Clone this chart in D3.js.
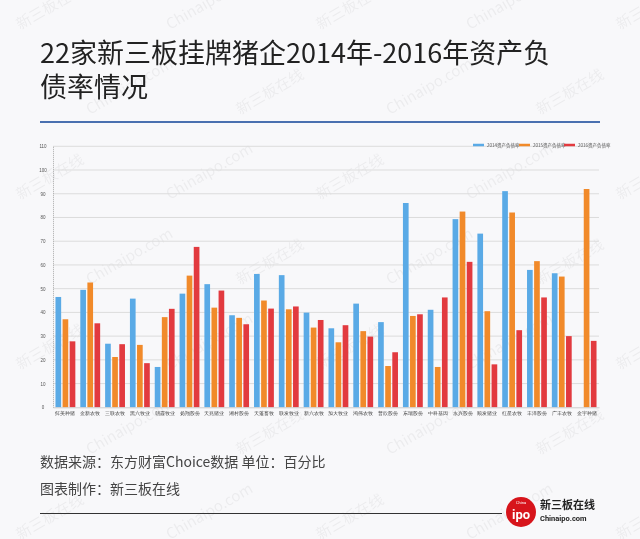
<!DOCTYPE html>
<html>
<head>
<meta charset="utf-8">
<script src="https://cdn.jsdelivr.net/npm/d3@7/dist/d3.min.js"></script>
<style>
  body { margin: 0; background: #f8f8fa; }
  svg { display: block; font-family: "Noto Sans CJK SC", "Noto Sans", sans-serif; }
</style>
</head>
<body>
<div id="chart-area"></div>
<script>
// 22家挂牌猪企
const companies = ["鲜美种猪", "金新农牧", "三联农牧", "黑六牧业", "朝霞牧业", "扬翔股份", "天兆猪业",
  "湘村股份", "天蓬畜牧", "联发牧业", "新六农牧", "加大牧业", "鸿伟农牧", "普欣股份", "东瑞股份",
  "中科基因", "永兴股份", "顺发猪业", "红星农牧", "丰泽股份", "广丰农牧", "金宇种猪"]
const seriesNames = ["2014资产负债率", "2015资产负债率", "2016资产负债率"]
const colors = ["#5aaae6", "#f18a2a", "#e23a3f"]
const v2014 = [46.5, 49.5, 26.8, 45.8, 17.0, 47.9, 51.9, 38.8, 56.2, 55.7, 39.9, 33.3, 43.7, 35.9, 86.1, 41.1, 79.3, 73.2, 91.1, 57.9, 56.5, null]
const v2015 = [37.1, 52.6, 21.2, 26.3, 38.0, 55.5, 42.0, 37.7, 45.0, 41.3, 33.6, 27.4, 32.1, 17.4, 38.5, 17.0, 82.5, 40.5, 82.1, 61.6, 55.1, 92.0]
const v2016 = [27.8, 35.4, 26.6, 18.6, 41.5, 67.6, 49.2, 35.0, 41.6, 42.5, 36.8, 34.6, 29.8, 23.2, 39.2, 46.3, 61.3, 18.1, 32.5, 46.3, 30.0, 28.0]
const yTicks = [0, 10, 20, 30, 40, 50, 60, 70, 80, 90, 100, 110]
const watermarks = ["新三板在线", "Chinaipo.com"]

const W = 640, H = 539
const PLOT = { LEFT: 53, RIGHT: 599, TOP: 146.3, BOTTOM: 407.3 }

const svg = d3.select("#chart-area").append("svg")
  .attr("width", W)
  .attr("height", H)

svg.append("rect").attr("width", W).attr("height", H).attr("fill", "#f8f8fa")

// faint watermarks
const wm = svg.append("g").attr("fill", "#000").attr("opacity", 0.05)
  .attr("font-size", 15)
for (let r = 0; r < 7; r++) {
  for (let c = 0; c < 5; c++) {
    const x = 20 + c * 150 + (r % 2) * 70
    const yy = 30 + r * 85
    wm.append("text")
      .attr("transform", `translate(${x},${yy}) rotate(-30)`)
      .text(watermarks[(r + c) % 2])
  }
}

// Title
const title = svg.append("text")
  .attr("x", 40)
  .attr("font-size", 27)
  .attr("font-weight", 400)
  .attr("fill", "#222")
title.append("tspan").attr("x", 40).attr("y", 63).text("22家新三板挂牌猪企2014年-2016年资产负")
title.append("tspan").attr("x", 40).attr("y", 97).text("债率情况")

svg.append("line")
  .attr("x1", 40).attr("x2", 600)
  .attr("y1", 122).attr("y2", 122)
  .attr("stroke", "#4a70b0").attr("stroke-width", 2)

// Scales
const x0 = d3.scaleBand()
  .domain(companies)
  .range([PLOT.LEFT, PLOT.RIGHT])
  .paddingInner(0.2)
  .paddingOuter(0.1)

const x1 = d3.scaleBand()
  .domain(d3.range(3))
  .range([0, x0.bandwidth()])
  .paddingInner(0.2)

const y = d3.scaleLinear()
  .domain([0, 110])
  .range([PLOT.BOTTOM, PLOT.TOP])

// Grid
svg.append("g")
  .selectAll("line")
  .data(yTicks.slice(1))
  .enter().append("line")
    .attr("x1", PLOT.LEFT).attr("x2", PLOT.RIGHT)
    .attr("y1", d => y(d)).attr("y2", d => y(d))
    .attr("stroke", "#dcdcdc").attr("stroke-width", 1)

// Y axis
const yAxisCall = d3.axisLeft(y)
  .tickValues(yTicks)
  .tickSize(0)
  .tickPadding(8)
const yAxis = svg.append("g")
  .attr("transform", `translate(${PLOT.LEFT}, 0)`)
  .call(yAxisCall)
yAxis.select(".domain")
  .attr("stroke", "#aaa")
  .attr("stroke-dasharray", "1,1")
yAxis.selectAll("text")
  .attr("font-size", 4.5)
  .attr("fill", "#555")
  .attr("text-anchor", "middle")
  .attr("x", -10)

// Bars
const seriesData = [v2014, v2015, v2016]
const groups = svg.append("g")
  .selectAll("g")
  .data(companies)
  .enter().append("g")
    .attr("transform", d => `translate(${x0(d)}, 0)`)

groups.selectAll("rect")
  .data((d, i) => seriesData.map((s, k) => ({ k: k, v: s[i] })).filter(o => o.v != null))
  .enter().append("rect")
    .attr("x", d => x1(d.k))
    .attr("y", d => y(d.v))
    .attr("width", x1.bandwidth())
    .attr("height", d => y(0) - y(d.v))
    .attr("fill", d => colors[d.k])

// X axis
const xAxisCall = d3.axisBottom(x0).tickSize(0).tickPadding(5)
const xAxis = svg.append("g")
  .attr("transform", `translate(0, ${PLOT.BOTTOM})`)
  .call(xAxisCall)
xAxis.select(".domain").attr("stroke", "#ccc")
xAxis.selectAll("text")
  .attr("font-size", 4.5)
  .attr("fill", "#444")

// Legend
const legendX = [473, 519, 564]
const legend = svg.append("g")
  .selectAll("g")
  .data(seriesNames)
  .enter().append("g")
    .attr("transform", (d, i) => `translate(${legendX[i]}, 145)`)
legend.append("line")
  .attr("x1", 0).attr("x2", 11)
  .attr("stroke", (d, i) => colors[i])
  .attr("stroke-width", 2.5)
legend.append("text")
  .attr("x", 14)
  .attr("y", 1.6)
  .attr("font-size", 4.5)
  .attr("fill", "#555")
  .text(d => d)

// Footer
svg.append("text")
  .attr("x", 40).attr("y", 467)
  .attr("font-size", 14)
  .attr("fill", "#444")
  .text("数据来源：东方财富Choice数据 单位：百分比")
svg.append("text")
  .attr("x", 40).attr("y", 494)
  .attr("font-size", 14)
  .attr("fill", "#444")
  .text("图表制作：新三板在线")

svg.append("line")
  .attr("x1", 40).attr("x2", 502)
  .attr("y1", 513.5).attr("y2", 513.5)
  .attr("stroke", "#333").attr("stroke-width", 1.2)

// Logo
const logo = svg.append("g").attr("transform", "translate(521, 512)")
logo.append("circle").attr("r", 15).attr("fill", "#d7141b")
logo.append("text")
  .attr("y", -8.5).attr("text-anchor", "middle")
  .attr("font-size", 4).attr("fill", "#fff")
  .attr("font-family", "Roboto, sans-serif")
  .text("China")
logo.append("text")
  .attr("y", 7).attr("text-anchor", "middle")
  .attr("font-size", 13).attr("font-weight", 700).attr("fill", "#fff")
  .attr("font-family", "Roboto, sans-serif")
  .text("ipo")
logo.append("text")
  .attr("x", 19).attr("y", -3)
  .attr("font-size", 11).attr("font-weight", 700).attr("fill", "#222")
  .text("新三板在线")
logo.append("text")
  .attr("x", 19).attr("y", 9)
  .attr("font-size", 7.5).attr("font-weight", 700).attr("fill", "#222")
  .attr("font-family", "Roboto, sans-serif")
  .text("Chinaipo.com")
</script>
</body>
</html>
